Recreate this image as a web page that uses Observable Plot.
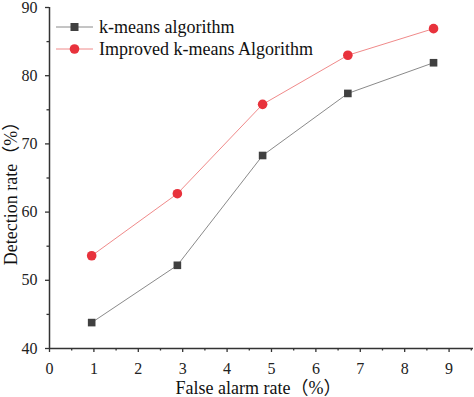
<!DOCTYPE html>
<html><head><meta charset="utf-8">
<script src="https://cdn.jsdelivr.net/npm/d3@7"></script>
<script src="https://cdn.jsdelivr.net/npm/@observablehq/plot@0.6"></script>
<style>
body{margin:0;background:#fff;}
#wrap{position:relative;width:474px;height:397px;font-family:'Liberation Serif','Times New Roman','DejaVu Serif','Noto Sans CJK SC',serif;}
#chart svg, #chart svg text{font-family:'Liberation Serif','Times New Roman','DejaVu Serif','Noto Sans CJK SC',serif !important;}
#legend{position:absolute;left:56px;top:16px;font-size:18px;color:#111;line-height:22px;}
#legend div{display:flex;align-items:center;height:22px;}
#legend svg{margin-right:6px;}
</style></head><body>
<div id="wrap"><div id="chart"></div><div id="legend"></div></div>
<script>
const seriesNames = ["k-means algorithm", "Improved k-means Algorithm"];
const falseAlarm = [0.95, 2.88, 4.8, 6.72, 8.65];
const kmeans = [43.8, 52.2, 68.3, 77.4, 81.9];
const improved = [53.6, 62.7, 75.8, 83.0, 86.9];
const xTicks = [0,1,2,3,4,5,6,7,8,9];
const xMinor = [0.5,1.5,2.5,3.5,4.5,5.5,6.5,7.5,8.5,9.5];
const yTicks = [40,50,60,70,80,90];
const yMinor = [45,55,65,75,85];
const xLabel = "False alarm rate（%）";
const yLabel = "Detection rate（%）";

const lineColors = ["#8a8a8a", "#f08a8a"];
const markColors = ["#404040", "#e8323c"];

const d1 = falseAlarm.map((x,i)=>({x, y: kmeans[i]}));
const d2 = falseAlarm.map((x,i)=>({x, y: improved[i]}));
const axisColor = "#333";

const chart = Plot.plot({
  width: 474, height: 397,
  marginLeft: 49, marginTop: 7, marginBottom: 49, marginRight: 1,
  style: {fontSize: "16px", color: "#222", background: "#fff"},
  x: {domain: [0, 9.55]},
  y: {domain: [40, 90]},
  marks: [
    Plot.axisX({ticks: xTicks, tickSize: 4, tickPadding: 10, tickFormat: d=>String(d), label: null, stroke: axisColor, strokeWidth: 1.3}),
    Plot.axisX({ticks: xMinor, tickSize: 2.5, tickFormat: ()=>"", label: null, stroke: axisColor, strokeWidth: 1.3}),
    Plot.axisY({ticks: yTicks, tickSize: 4, tickPadding: 8, tickFormat: d=>String(d), label: null, stroke: axisColor, strokeWidth: 1.3}),
    Plot.axisY({ticks: yMinor, tickSize: 2.5, tickFormat: ()=>"", label: null, stroke: axisColor, strokeWidth: 1.3}),
    Plot.ruleY([40], {stroke: axisColor, strokeWidth: 1.5}),
    Plot.ruleX([0], {stroke: axisColor, strokeWidth: 1.5}),
    Plot.line(d1, {x: "x", y: "y", stroke: lineColors[0], strokeWidth: 1}),
    Plot.line(d2, {x: "x", y: "y", stroke: lineColors[1], strokeWidth: 1}),
    Plot.dot(d1, {x: "x", y: "y", symbol: "square", r: 4.3, fill: markColors[0], stroke: "none"}),
    Plot.dot(d2, {x: "x", y: "y", symbol: "circle", r: 4.8, fill: markColors[1], stroke: "none"}),
    Plot.text([xLabel], {text: d=>d, frameAnchor: "bottom", lineAnchor: "middle", dy: 40, dx: -3, fontSize: 18, fill: "#111"}),
    Plot.text([yLabel], {text: d=>d, frameAnchor: "left", textAnchor: "middle", rotate: -90, dx: -38, dy: 11, fontSize: 18, fill: "#111"})
  ]
});
document.getElementById("chart").appendChild(chart);

const legend = document.getElementById("legend");
seriesNames.forEach((name, i) => {
  const row = document.createElement("div");
  const mk = i === 0
    ? `<rect x="14.5" y="7" width="8" height="8" fill="${markColors[0]}"/>`
    : `<circle cx="18.5" cy="11" r="4.8" fill="${markColors[1]}"/>`;
  row.innerHTML = `<svg width="37" height="22"><line x1="0" x2="37" y1="11" y2="11" stroke="${lineColors[i]}" stroke-width="1"/>${mk}</svg><span>${name}</span>`;
  legend.appendChild(row);
});
</script>
</body></html>
